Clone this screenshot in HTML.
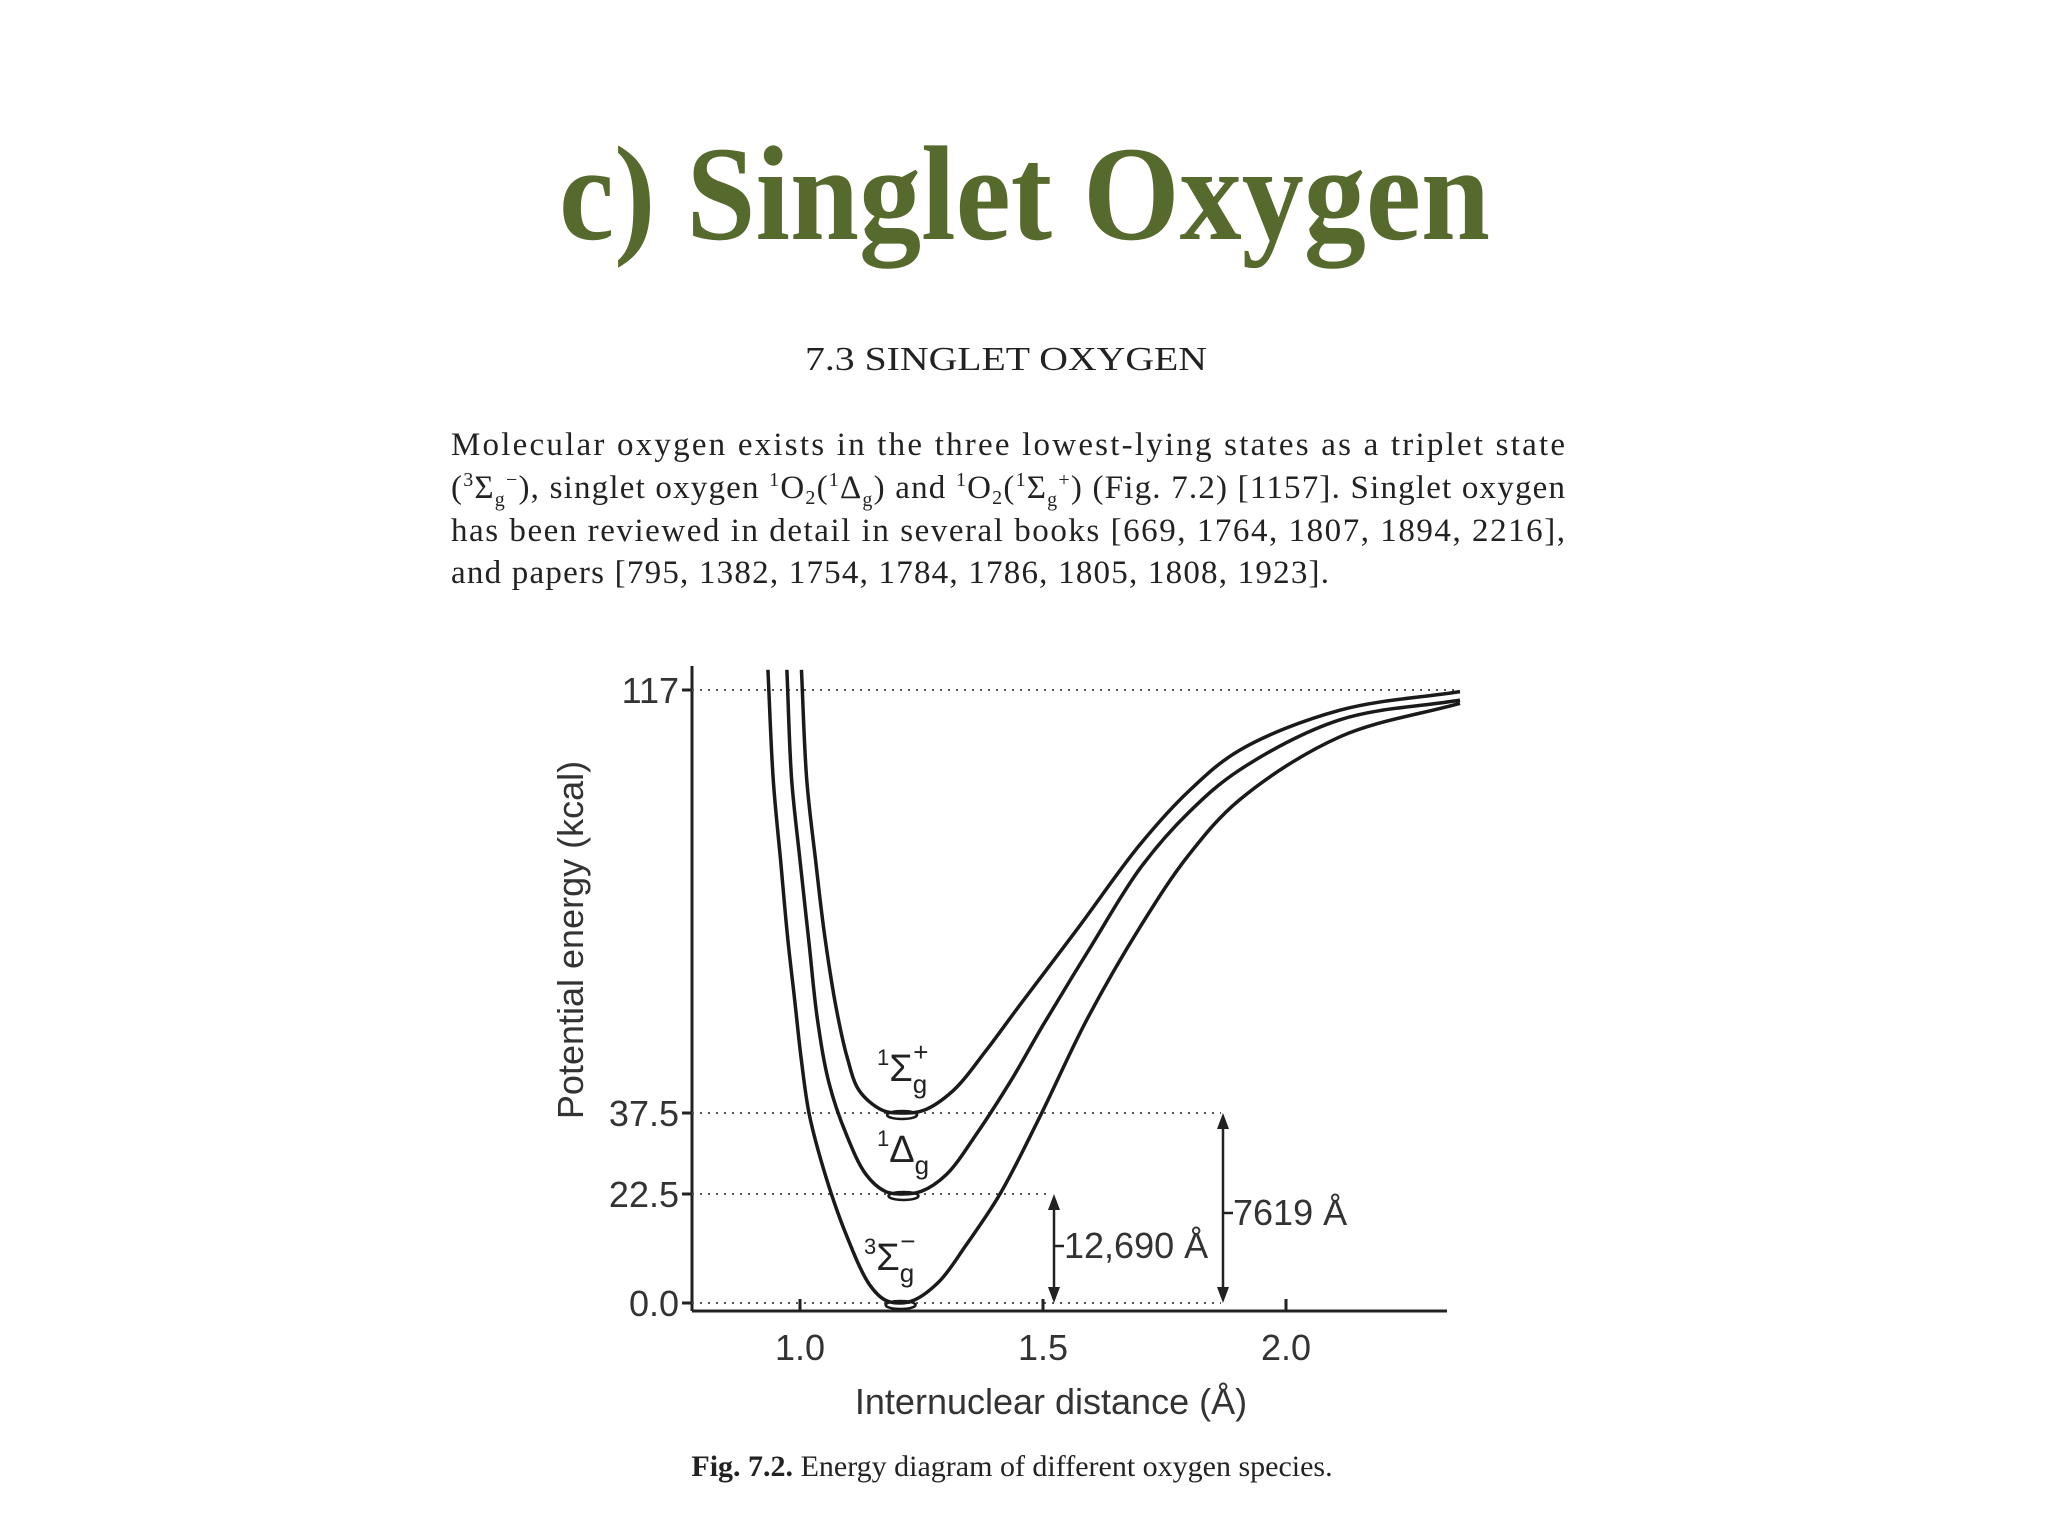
<!DOCTYPE html>
<html><head><meta charset="utf-8"><style>
html,body{margin:0;padding:0;background:#fff;}
svg{display:block;}
.serif{font-family:"Liberation Serif",serif;}
.sans{font-family:"Liberation Sans",sans-serif;}
</style></head>
<body>
<svg id="page" width="2048" height="1536" viewBox="0 0 2048 1536" xmlns="http://www.w3.org/2000/svg">
<rect width="2048" height="1536" fill="#fff"/>
<text class="serif" x="559" y="239" font-size="135" font-weight="bold" fill="#556a2c" textLength="931" lengthAdjust="spacingAndGlyphs">c) Singlet Oxygen</text>
<text class="serif" x="805" y="370" font-size="34" fill="#222" textLength="402" lengthAdjust="spacingAndGlyphs">7.3  SINGLET OXYGEN</text>
<g class="serif" font-size="33" fill="#222">
<text x="451" y="455" textLength="1114" lengthAdjust="spacing">Molecular oxygen exists in the three lowest-lying states as a triplet state</text>
<text x="451" y="498" textLength="1114" lengthAdjust="spacing">(<tspan font-size="20" dy="-12">3</tspan><tspan dy="12">Σ</tspan><tspan font-size="20" dy="8">g</tspan><tspan font-size="20" dy="-20">−</tspan><tspan dy="12">), singlet oxygen </tspan><tspan font-size="20" dy="-12">1</tspan><tspan dy="12">O</tspan><tspan font-size="20" dy="6">2</tspan><tspan dy="-6">(</tspan><tspan font-size="20" dy="-12">1</tspan><tspan dy="12">Δ</tspan><tspan font-size="20" dy="8">g</tspan><tspan dy="-8">) and </tspan><tspan font-size="20" dy="-12">1</tspan><tspan dy="12">O</tspan><tspan font-size="20" dy="6">2</tspan><tspan dy="-6">(</tspan><tspan font-size="20" dy="-12">1</tspan><tspan dy="12">Σ</tspan><tspan font-size="20" dy="8">g</tspan><tspan font-size="20" dy="-20">+</tspan><tspan dy="12">) (Fig. 7.2) [1157]. Singlet oxygen</tspan></text>
<text x="451" y="541" textLength="1114" lengthAdjust="spacing">has been reviewed in detail in several books [669, 1764, 1807, 1894, 2216],</text>
<text x="451" y="583" textLength="878" lengthAdjust="spacing">and papers [795, 1382, 1754, 1784, 1786, 1805, 1808, 1923].</text>
</g>
<g id="chart"></g>
<text class="serif" x="1012" y="1476" font-size="30" text-anchor="middle" fill="#222"><tspan font-weight="bold">Fig. 7.2.</tspan> Energy diagram of different oxygen species.</text>
</svg>
<script>
const yTicks=[0,22.5,37.5,117];
const yTickLabels=["0.0","22.5","37.5","117"];
const xTicks=[1.0,1.5,2.0];
const xTickLabels=["1.0","1.5","2.0"];
const tripletX=[0.934,0.945,0.96,0.975,0.99,1.002,1.019,1.054,1.095,1.143,1.175,1.205,1.235,1.287,1.342,1.411,1.493,1.59,1.70,1.80,1.905,2.111,2.358];
const tripletY=[120.8,100,85,70,58,48,37.3,25.5,14.1,3.8,0.6,0,0.6,4.5,12.0,22.4,36.7,55,72.5,86,96.4,108.2,114.5];
const deltaX=[0.973,0.983,1.0,1.018,1.036,1.06,1.095,1.136,1.175,1.212,1.25,1.301,1.363,1.438,1.5,1.60,1.70,1.80,1.905,2.111,2.358];
const deltaY=[120.8,100,85,70,55,43,33.6,26.1,23,22.5,23,26.1,33.6,44.2,54,69,83.5,94,102,111.4,115.1];
const sigmaX=[1.003,1.014,1.032,1.052,1.075,1.097,1.122,1.17,1.212,1.255,1.315,1.385,1.45,1.57,1.70,1.80,1.905,2.111,2.358];
const sigmaY=[120.8,100,85,70,57,48,41.7,38,37.5,38,41.7,49.5,57.5,72,88,98,105.7,113.2,116.7];
const gap1=[0,22.5], gap2=[0,37.5];
const gapLabels=["12,690 Å","7619 Å"];

const NS="http://www.w3.org/2000/svg";
const g=document.getElementById('chart');
const yPix=[1303,1194,1113,690];
function ys(v){for(let i=0;i<yTicks.length-1;i++){if(v<=yTicks[i+1]||i==yTicks.length-2){const t=(v-yTicks[i])/(yTicks[i+1]-yTicks[i]);return yPix[i]+t*(yPix[i+1]-yPix[i]);}}}
function xs(v){return 800+(v-1.0)*486;}
function mk(tag,attrs,parent){const e=document.createElementNS(NS,tag);for(const k in attrs)e.setAttribute(k,attrs[k]);(parent||g).appendChild(e);return e;}
const X0=692, XEND=1447, YAX=1311, YTOP=666;
let a=mk('line',{x1:X0,y1:YTOP,x2:X0,y2:YAX,stroke:'#222','stroke-width':3});


a=mk('line',{x1:X0,y1:YAX,x2:XEND,y2:YAX,stroke:'#222','stroke-width':3});


const dotEnd=[1221,1051,1221,1460];
yTicks.forEach((v,i)=>{
  const y=ys(v);
  let t=mk('line',{x1:X0-10,y1:y,x2:X0,y2:y,stroke:'#222','stroke-width':3});
  
  
  let d=mk('line',{x1:X0,y1:y,x2:dotEnd[i],y2:y,stroke:'#555','stroke-width':2,'stroke-dasharray':'2 6'});
  
  
  let l=mk('text',{x:X0-13,y:y+13,'text-anchor':'end','font-size':36,fill:'#333',class:'sans'});
  l.textContent=yTickLabels[i];
  
  
});
xTicks.forEach((v,i)=>{
  const x=xs(v);
  let t=mk('line',{x1:x,y1:YAX-12,x2:x,y2:YAX,stroke:'#222','stroke-width':3});
  
  
  let l=mk('text',{x:x,y:1360,'text-anchor':'middle','font-size':36,fill:'#333',class:'sans'});
  l.textContent=xTickLabels[i];
  
  
});
let xt=mk('text',{x:1051,y:1414,'text-anchor':'middle','font-size':36,fill:'#333',class:'sans'});
xt.textContent='Internuclear distance (Å)';


let yt=mk('text',{x:0,y:0,'text-anchor':'middle','font-size':36,fill:'#333',class:'sans',transform:'translate(583,940) rotate(-90)'});
yt.textContent='Potential energy (kcal)';



function dist(p,q){return Math.hypot(p[0]-q[0],p[1]-q[1]);}
function curve(X,Y,name){
  const P=X.map((x,i)=>[xs(x),ys(Y[i])]);
  let d='M'+P[0][0]+','+P[0][1];
  for(let i=0;i<P.length-1;i++){
    const p1=P[i],p2=P[i+1];
    const p0=i>0?P[i-1]:[2*p1[0]-p2[0],2*p1[1]-p2[1]];
    const p3=i+2<P.length?P[i+2]:[2*p2[0]-p1[0],2*p2[1]-p1[1]];
    const d1=dist(p0,p1),d2=dist(p1,p2),d3=dist(p2,p3);
    const s1=Math.sqrt(d1),s2=Math.sqrt(d2),s3=Math.sqrt(d3);
    const c1=[0,1].map(k=>(d1*p2[k]-d2*p0[k]+(2*d1+3*s1*s2+d2)*p1[k])/(3*s1*(s1+s2)));
    const c2=[0,1].map(k=>(d3*p1[k]-d2*p3[k]+(2*d3+3*s3*s2+d2)*p2[k])/(3*s3*(s3+s2)));
    d+=' C'+c1[0].toFixed(1)+','+c1[1].toFixed(1)+' '+c2[0].toFixed(1)+','+c2[1].toFixed(1)+' '+p2[0].toFixed(1)+','+p2[1].toFixed(1);
  }
  const p=mk('path',{d:d,fill:'none',stroke:'#1a1a1a','stroke-width':3.5});
  
  
}
curve(tripletX,tripletY,'triplet-curve');
curve(deltaX,deltaY,'delta-curve');
curve(sigmaX,sigmaY,'sigma-plus-curve');
[[1.207,0],[1.213,22.5],[1.21,37.5]].forEach(m=>{
  let e=mk('ellipse',{cx:xs(m[0]),cy:ys(m[1])+2,rx:15,ry:4,fill:'none',stroke:'#1a1a1a','stroke-width':2.5});
  
  
});
function arrow(x,gap,lbl,ly){
  const y1=ys(gap[1]),y2=ys(gap[0]);
  let l=mk('line',{x1:x,y1:y1+8,x2:x,y2:y2-8,stroke:'#222','stroke-width':2.5});
  
  
  mk('path',{d:`M${x-6},${y1+16} L${x},${y1} L${x+6},${y1+16}Z`,fill:'#222'});
  mk('path',{d:`M${x-6},${y2-16} L${x},${y2} L${x+6},${y2-16}Z`,fill:'#222'});
  mk('line',{x1:x,y1:ly-12,x2:x+10,y2:ly-12,stroke:'#222','stroke-width':2.5});
  let tx=mk('text',{x:x+10,y:ly,'font-size':36,fill:'#333',class:'sans'});
  tx.textContent=lbl;
  
  
}
arrow(1054,gap1,gapLabels[0],1258);
arrow(1223,gap2,gapLabels[1],1225);
function stateLabel(x,y,sup,main,sub,sup2,name){
  let t=mk('text',{x:x,y:y,'font-size':38,fill:'#222',class:'sans'});
  
  
  t.innerHTML=`<tspan font-size="22" dy="-16">${sup}</tspan><tspan dy="16">${main}</tspan><tspan font-size="26" dy="12">${sub}</tspan>`+(sup2?`<tspan font-size="26" dx="-14" dy="-32">${sup2}</tspan>`:'');
}
stateLabel(877,1081,'1','Σ','g','+','sigma-plus-label');
stateLabel(877,1162,'1','Δ','g','','delta-label');
stateLabel(864,1270,'3','Σ','g','−','triplet-label');
</script>
</body></html>
